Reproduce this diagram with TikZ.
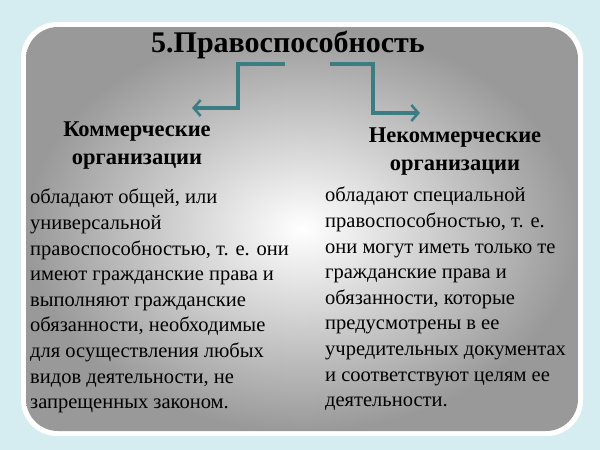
\documentclass[tikz,border=0pt]{standalone}
\usepackage{fontspec}
\setmainfont{Liberation Serif}
\usetikzlibrary{arrows.meta}
\definecolor{bgblue}{HTML}{D5EDF1}
\definecolor{teal}{HTML}{3C7D84}
\tikzset{
  conn/.style={draw=teal,line width=3.2pt,-{Straight Barb[length=7pt,width=16pt,line width=2.5pt]}},
  body/.style={anchor=north west,align=left,font=\fontsize{20.5}{25.6}\selectfont,inner sep=0pt},
  head/.style={anchor=north west,align=left,font=\bfseries\fontsize{22.5}{28}\selectfont,inner sep=0pt}
}
\begin{document}
\begin{tikzpicture}[x=1pt,y=-1pt]
\useasboundingbox (0,0) rectangle (600,450);
\fill[bgblue] (0,0) rectangle (600,450);
\fill[white] (21,22) [rounded corners=36pt] rectangle (583,436);
\begin{scope}
\clip (26,27) [rounded corners=32pt] rectangle (578,431);
\shade[inner color=white,outer color=black!40] (26,27) rectangle (578,431);
\end{scope}
\node[font=\bfseries\fontsize{30}{32}\selectfont,inner sep=0pt] (title) at (288,45) {5.Правоспособность};
\coordinate (l0) at (285,64); \coordinate (l1) at (238,64); \coordinate (l2) at (238,108); \coordinate (l3) at (192,108);
\coordinate (r0) at (330,64); \coordinate (r1) at (373,64); \coordinate (r2) at (373,113); \coordinate (r3) at (420,113);
\draw[conn] (l0) -- (l1) -- (l2) -- (l3);
\draw[conn] (r0) -- (r1) -- (r2) -- (r3);
\node[head,align=center,anchor=north] (hl) at (137,122) {Коммерческие\\организации};
\node[head,align=center,anchor=north] (hr) at (455,128) {Некоммерческие\\организации};
\node[body] (tl) at (30,189) {обладают общей, или\\универсальной\\правоспособностью, т. е. они\\имеют гражданские права и\\выполняют гражданские\\обязанности, необходимые\\для осуществления любых\\видов деятельности, не\\запрещенных законом.};
\node[body] (tr) at (325,187) {обладают специальной\\правоспособностью, т. е.\\они могут иметь только те\\гражданские права и\\обязанности, которые\\предусмотрены в ее\\учредительных документах\\и соответствуют целям ее\\деятельности.};
\end{tikzpicture}
\end{document}
